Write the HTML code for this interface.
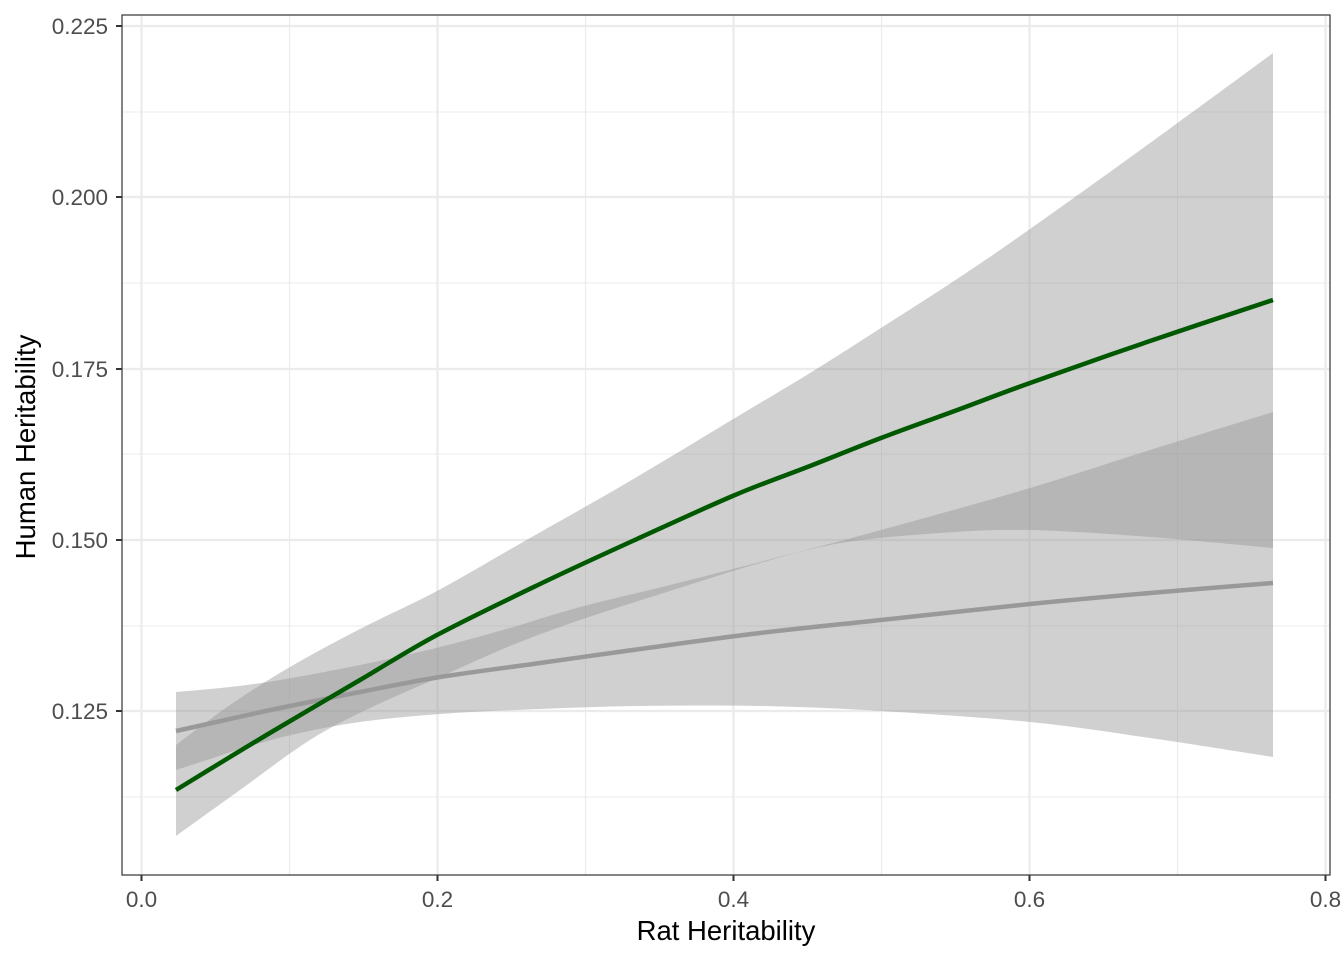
<!DOCTYPE html>
<html><head><meta charset="utf-8"><style>html,body{margin:0;padding:0;background:#fff}svg{display:block}</style></head>
<body>
<svg width="1344" height="960" viewBox="0 0 1344 960" xmlns="http://www.w3.org/2000/svg" font-family="Liberation Sans, sans-serif">
<rect width="1344" height="960" fill="#fff"/>
<g stroke="#ebebeb" stroke-width="1.1">
<line x1="289.5" y1="15" x2="289.5" y2="875"/><line x1="585.5" y1="15" x2="585.5" y2="875"/><line x1="881.5" y1="15" x2="881.5" y2="875"/><line x1="1177.5" y1="15" x2="1177.5" y2="875"/>
<line x1="122" y1="112" x2="1330" y2="112"/><line x1="122" y1="283" x2="1330" y2="283"/><line x1="122" y1="454" x2="1330" y2="454"/><line x1="122" y1="626" x2="1330" y2="626"/><line x1="122" y1="797" x2="1330" y2="797"/>
</g>
<g stroke="#ebebeb" stroke-width="2.2">
<line x1="141.5" y1="15" x2="141.5" y2="875"/><line x1="437.5" y1="15" x2="437.5" y2="875"/><line x1="733.5" y1="15" x2="733.5" y2="875"/><line x1="1029.5" y1="15" x2="1029.5" y2="875"/><line x1="1325.5" y1="15" x2="1325.5" y2="875"/>
<line x1="122" y1="26" x2="1330" y2="26"/><line x1="122" y1="197" x2="1330" y2="197"/><line x1="122" y1="369" x2="1330" y2="369"/><line x1="122" y1="540" x2="1330" y2="540"/><line x1="122" y1="711" x2="1330" y2="711"/>
</g>
<g fill="#999" fill-opacity="0.46">
<path id="b1" d="M176,692 L230,687 L280,680 L360,665 L440,647 L510,628 L580,607 L670,585 L760,562 L881,530 L1030,488 L1150,450 L1273,412 L1273,757 L1150,738 L1030,722 L881,711 L760,706 L640,706 L540,709 L440,714 L360,722 L300,733 L250,746 L210,759 L176,770 Z"/>
<path id="b2" d="M176,745 L230,705 L290,667 L360,629 L437,591 L523,542 L630,481 L735,418 L810,373 L881,328 L960,277 L1030,229 L1150,143 L1273,53 L1273,548 L1150,537 L1030,530 L940,533 L841,543 L760,563 L670,591 L580,620 L510,646 L440,677 L370,708 L310,740 L240,790 L176,836 Z"/>
</g>
<polyline id="l1" fill="none" stroke="#999" stroke-width="4.5" points="176,731 230,719 280,708 360,692 440,677 540,663 640,649 760,633 881,620 1030,604 1150,593 1273,583"/>
<polyline id="l2" fill="none" stroke="#005900" stroke-width="4.5" stroke-linejoin="round" points="176,790 230,757 280,727 360,680 437,635 540,584 637,539 735,495 810,466 881,438 960,409 1030,383 1150,341 1273,300"/>
<rect x="122" y="15" width="1208" height="860" fill="none" stroke="#333" stroke-width="1.2"/>
<g stroke="#333" stroke-width="2">
<line x1="141.5" y1="875" x2="141.5" y2="881"/><line x1="437.5" y1="875" x2="437.5" y2="881"/><line x1="733.5" y1="875" x2="733.5" y2="881"/><line x1="1029.5" y1="875" x2="1029.5" y2="881"/><line x1="1325.5" y1="875" x2="1325.5" y2="881"/>
<line x1="116" y1="26" x2="122" y2="26"/><line x1="116" y1="197" x2="122" y2="197"/><line x1="116" y1="369" x2="122" y2="369"/><line x1="116" y1="540" x2="122" y2="540"/><line x1="116" y1="711" x2="122" y2="711"/>
</g>
<g fill="#4d4d4d" font-size="22.5" text-anchor="middle">
<text x="141.5" y="907">0.0</text><text x="437.5" y="907">0.2</text><text x="733.5" y="907">0.4</text><text x="1029.5" y="907">0.6</text><text x="1325.5" y="907">0.8</text>
</g>
<g fill="#4d4d4d" font-size="22.5" text-anchor="end">
<text x="108" y="34">0.225</text><text x="108" y="205">0.200</text><text x="108" y="377">0.175</text><text x="108" y="548">0.150</text><text x="108" y="719">0.125</text>
</g>
<text x="726" y="940" font-size="27.5" text-anchor="middle" fill="#000">Rat Heritability</text>
<text transform="translate(35,447) rotate(-90)" font-size="27.5" text-anchor="middle" fill="#000">Human Heritability</text>
</svg>
<script>
(function(){
function cr(p){var d="M"+p[0][0]+","+p[0][1];for(var i=0;i<p.length-1;i++){var a=p[i-1]||p[i],b=p[i],c=p[i+1],e=p[i+2]||c;
d+=" C"+(b[0]+(c[0]-a[0])/6).toFixed(1)+","+(b[1]+(c[1]-a[1])/6).toFixed(1)+" "+(c[0]-(e[0]-b[0])/6).toFixed(1)+","+(c[1]-(e[1]-b[1])/6).toFixed(1)+" "+c[0]+","+c[1];}return d;}
function pts(s){return s.trim().split(/\s+/).map(function(t){return t.split(",").map(Number);});}
["l1","l2"].forEach(function(id){var el=document.getElementById(id);var p=pts(el.getAttribute("points"));
var np=document.createElementNS("http://www.w3.org/2000/svg","path");np.setAttribute("d",cr(p));
["fill","stroke","stroke-width","stroke-linejoin"].forEach(function(k){if(el.getAttribute(k))np.setAttribute(k,el.getAttribute(k));});
el.parentNode.replaceChild(np,el);});
["b1","b2"].forEach(function(id){var el=document.getElementById(id);var s=el.getAttribute("d").replace(/[MZ]/g,"").split("L").map(function(t){return t.trim().split(",").map(Number);});
var n=s.length/2,up=s.slice(0,n),lo=s.slice(n);
var d=cr(up)+" L"+lo[0][0]+","+lo[0][1]+cr(lo).replace(/^M[^C]*/," ")+" Z";el.setAttribute("d",d);});
})();
</script>
</body></html>
